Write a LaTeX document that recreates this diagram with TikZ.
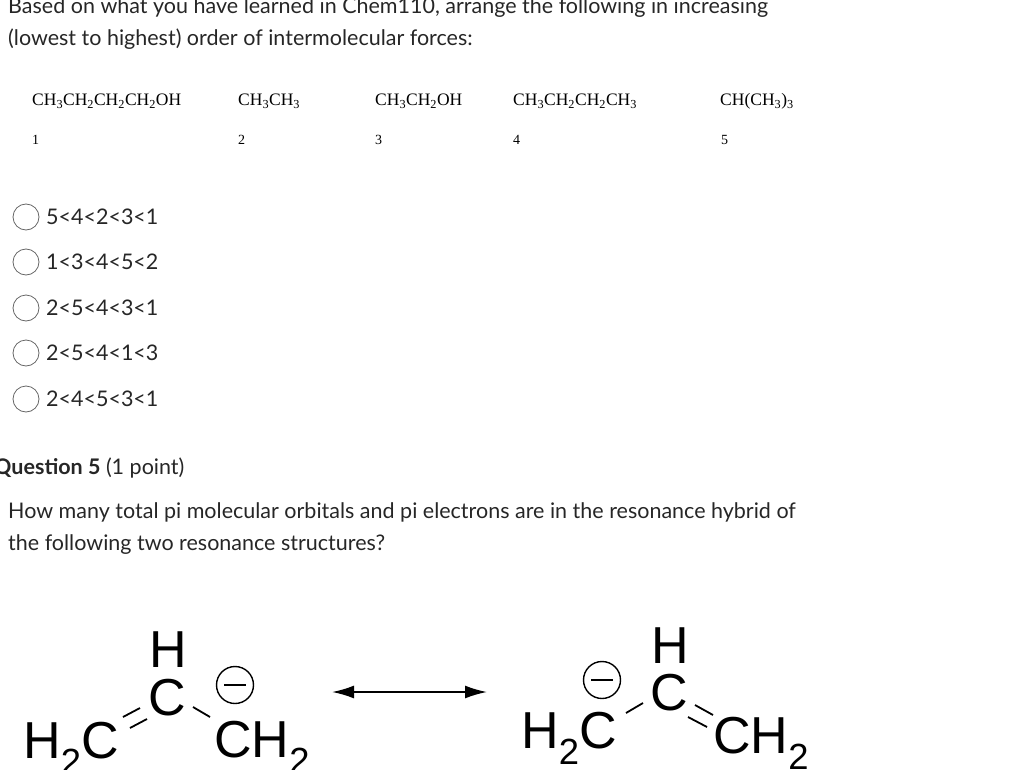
\documentclass[tikz,border=0pt]{standalone}
\usetikzlibrary{arrows.meta}
\usepackage{fontspec}
\setmainfont{Lato}
\newfontfamily\tabfont{Liberation Serif}
\newfontfamily\chemfont{Liberation Sans}
\begin{document}
\begin{tikzpicture}[x=1pt,y=-1pt,
  txt/.style={anchor=base west,inner sep=0pt,font=\fontsize{21.5}{26}\selectfont,text=black!85},
  tab/.style={anchor=base west,inner sep=0pt,font=\tabfont\fontsize{17.5}{20}\selectfont},
  num/.style={anchor=base west,inner sep=0pt,font=\tabfont\fontsize{14}{16}\selectfont},
  radio/.style={circle,draw=black!60,line width=0.8pt,minimum size=26pt,inner sep=0pt},
  chem/.style={anchor=base west,inner sep=0pt,font=\chemfont\fontsize{52}{58}\selectfont},
  bond/.style={line width=1.8pt},
  charge/.style={circle,draw,line width=1.4pt,minimum size=37pt,inner sep=0pt}]
\useasboundingbox (0,0) rectangle (1024,770);
\node[txt] (t1) at (8,14) {Based on what you have learned in Chem110, arrange the following in increasing};
\node[txt] (t2) at (8,46) {(lowest to highest) order of intermolecular forces:};
\node[tab] (a1) at (32,106) {CH\textsubscript{3}CH\textsubscript{2}CH\textsubscript{2}CH\textsubscript{2}OH};
\node[tab] (a2) at (238,106) {CH\textsubscript{3}CH\textsubscript{3}};
\node[tab] (a3) at (375,106) {CH\textsubscript{3}CH\textsubscript{2}OH};
\node[tab] (a4) at (513,106) {CH\textsubscript{3}CH\textsubscript{2}CH\textsubscript{2}CH\textsubscript{3}};
\node[tab] (a5) at (720,106) {CH(CH\textsubscript{3})\textsubscript{3}};
\node[num] (n1) at (32,145) {1};
\node[num] (n2) at (238,145) {2};
\node[num] (n3) at (375,145) {3};
\node[num] (n4) at (513,145) {4};
\node[num] (n5) at (721,145) {5};
\foreach \y/\s [count=\i] in {217/5<4<2<3<1,262/1<3<4<5<2,308/2<5<4<3<1,353/2<5<4<1<3,399/2<4<5<3<1}{
  \node[radio] (r\i) at (26,\y) {};
  \node[txt,anchor=west] (o\i) at (46,\y) {\s};
}
\node[txt] (q) at (-6,474) {\textbf{Question 5} (1 point)};
\node[txt] (p1) at (8,518) {How many total pi molecular orbitals and pi electrons are in the resonance hybrid of};
\node[txt] (p2) at (8,550) {the following two resonance structures?};
% left structure
\node[chem] (lH) at (149,667) {H};
\node[chem] (lC) at (148,715) {C};
\node[chem] (lH2C) at (23,758) {H\textsubscript{2}C};
\node[chem] (lCH2) at (214,757) {CH\textsubscript{2}};
\node[charge] (lm) at (235,685) {};
\draw[bond] (lm.center)++(-11,0) -- ++(22,0);
\draw[bond] (123,717) -- (140,708);
\draw[bond] (130,728) -- (147,719);
\draw[bond] (193,707) -- (210,717);
% arrow
\coordinate (ra) at (332,692);
\coordinate (rb) at (487,692);
\draw[line width=1.8pt,{Latex[length=22pt,width=13pt]}-{Latex[length=22pt,width=13pt]}] (ra) -- (rb);
% right structure
\node[chem] (rH2C) at (521,748) {H\textsubscript{2}C};
\node[chem] (rC) at (650,710) {C};
\node[chem] (rH) at (651,663) {H};
\node[chem] (rCH2) at (713,753) {CH\textsubscript{2}};
\node[charge] (rm) at (602,680) {};
\draw[bond] (rm.center)++(-11,0) -- ++(22,0);
\draw[bond] (626,713) -- (643,703);
\draw[bond] (695,705) -- (713,715);
\draw[bond] (688,717) -- (707,727);
\end{tikzpicture}
\end{document}
